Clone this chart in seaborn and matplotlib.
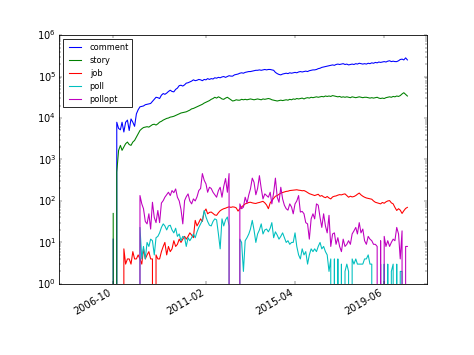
import numpy as np
import pandas as pd
import seaborn as sns
import matplotlib
matplotlib.use("Agg")
import matplotlib.pyplot as plt

# monthly counts per item type
months = pd.date_range("2006-10-01", periods=166, freq="MS")

comment = [12, 0, 7900, 5600, 5200, 7900, 4600, 7900, 8900, 5000,
           9500, 7900, 6300, 12600, 15800, 18600, 19100, 19500, 20900, 21400,
           21900, 22400, 25100, 28200, 31600, 30900, 29500, 35500, 38900, 37200,
           39800, 43600, 46800, 43600, 42700, 49000, 52500, 60300, 61700, 58900,
           63100, 69200, 70800, 74100, 77600, 83200, 79400, 81300, 85100, 83200,
           79400, 85100, 83200, 89100, 85100, 89100, 87100, 93300, 91200, 95500,
           93300, 97700, 100000, 95500, 100000, 104700, 102300, 102300, 109600, 112200,
           114800, 120200, 123000, 120200, 125900, 128800, 131800, 131800, 134900, 138000,
           141300, 141300, 144500, 141300, 144500, 147900, 144500, 147900, 147900, 144500,
           141300, 125900, 117500, 112200, 109600, 114800, 117500, 120200, 117500, 123000,
           120200, 123000, 125900, 123000, 128800, 131800, 128800, 131800, 134900, 131800,
           138000, 141300, 144500, 144500, 147900, 154900, 158500, 166000, 169800, 173800,
           177800, 182000, 186200, 190500, 186200, 195000, 199500, 195000, 199500, 204200,
           195000, 199500, 190500, 195000, 199500, 195000, 204200, 199500, 208900, 204200,
           199500, 204200, 199500, 208900, 204200, 213800, 208900, 218800, 213800, 223900,
           218800, 223900, 229100, 223900, 234400, 239900, 229100, 234400, 229100, 229100,
           239900, 257000, 263000, 251200, 281800, 251200]

story = [50, 0, 500, 1660, 2190, 1660, 2000, 2400, 2630, 2290,
         2190, 2630, 2880, 3470, 4170, 5010, 5500, 5890, 6030, 6170,
         6030, 6460, 6920, 7080, 6760, 7240, 7940, 8320, 8910, 9330,
         9770, 10000, 10500, 10700, 11000, 11500, 12000, 12600, 13200, 13500,
         13800, 14100, 14800, 15500, 16600, 17000, 17800, 18600, 19500, 20400,
         21400, 22900, 24000, 25100, 26300, 28200, 29500, 31600, 30200, 32400,
         30900, 28800, 28200, 30200, 31600, 29500, 27500, 25700, 26300, 27500,
         26900, 26900, 28200, 27500, 28200, 27500, 28200, 28800, 28200, 27500,
         28200, 28800, 28200, 27500, 28800, 28200, 28800, 29500, 28800, 27500,
         26900, 26300, 25700, 26300, 26900, 26300, 26900, 27500, 26900, 28200,
         27500, 28800, 28200, 29500, 28800, 29500, 30200, 28800, 30200, 30900,
         30200, 31600, 30900, 31600, 32400, 31600, 32400, 33100, 32400, 33900,
         33100, 33900, 33100, 34700, 33900, 33100, 32400, 33100, 31600, 32400,
         31600, 32400, 31600, 30900, 32400, 31600, 30900, 31600, 32400, 31600,
         30900, 31600, 31600, 30900, 30200, 30900, 30200, 30900, 31600, 30200,
         29500, 30200, 29500, 30900, 31600, 32400, 31600, 33100, 32400, 33900,
         33100, 34700, 38000, 40700, 37200, 33900]

job = [0, 0, 0, 0, 0, 0, 7, 3, 4, 4,
       3, 6, 4, 4, 5, 4, 3, 7, 4, 5,
       6, 4, 4, 0, 5, 4, 4, 6, 8, 10,
       5, 8, 6, 7, 11, 8, 9, 12, 10, 12,
       14, 12, 14, 17, 15, 13, 34, 25, 30, 37,
       32, 55, 64, 49, 53, 54, 50, 46, 45, 52,
       58, 62, 65, 67, 70, 72, 70, 72, 71, 68,
       57, 65, 72, 78, 85, 88, 92, 93, 90, 88,
       87, 90, 92, 95, 98, 90, 80, 65, 90, 102,
       115, 130, 135, 145, 155, 160, 165, 170, 172, 178,
       180, 182, 185, 186, 182, 180, 176, 178, 170, 160,
       150, 145, 140, 135, 140, 145, 130, 135, 125, 120,
       128, 118, 112, 125, 130, 132, 138, 142, 140, 145,
       148, 135, 123, 130, 125, 128, 135, 145, 155, 140,
       130, 123, 118, 115, 112, 110, 100, 93, 90, 87,
       85, 92, 88, 95, 100, 102, 90, 85, 70, 59,
       65, 60, 50, 58, 66, 70]

poll = [0, 0, 0, 0, 0, 0, 0, 0, 0, 0,
        0, 0, 0, 0, 0, 23, 4, 8, 4, 10,
        8, 12, 11, 5, 13, 14, 17, 23, 28, 25,
        20, 25, 26, 20, 17, 22, 14, 16, 11, 14,
        13, 8, 13, 11, 13, 16, 13, 18, 23, 28,
        34, 59, 41, 32, 26, 25, 32, 37, 35, 16,
        7, 37, 25, 35, 41, 25, 0, 0, 0, 0,
        0, 12, 10, 2, 11, 13, 16, 21, 34, 20,
        10, 16, 20, 28, 16, 20, 21, 18, 22, 30,
        13, 18, 15, 12, 14, 17, 13, 10, 11, 9,
        10, 10, 17, 8, 5, 4, 7, 5, 6, 3,
        5, 7, 6, 7, 6, 8, 10, 7, 8, 6,
        5, 2, 4, 0, 4, 0, 4, 0, 3, 0,
        2, 3, 2, 0, 4, 3, 4, 3, 3, 3,
        3, 4, 4, 5, 3, 3, 0, 0, 0, 0,
        3, 0, 3, 0, 3, 0, 2, 3, 0, 3,
        0, 2, 2, 0, 0, 0]

pollopt = [0, 0, 0, 0, 0, 0, 0, 0, 0, 0,
           0, 0, 0, 0, 0, 135, 85, 65, 32, 28,
           49, 21, 93, 40, 30, 59, 30, 89, 102, 123,
           141, 162, 135, 178, 158, 195, 123, 100, 63, 28,
           102, 126, 148, 100, 85, 112, 100, 126, 178, 200,
           457, 316, 257, 162, 214, 200, 162, 141, 123, 178,
           214, 123, 224, 347, 162, 457, 0, 0, 0, 0,
           0, 85, 65, 71, 123, 89, 141, 195, 355, 282,
           141, 200, 407, 200, 112, 148, 135, 123, 162, 85,
           158, 355, 123, 93, 214, 112, 79, 65, 60, 85,
           71, 49, 85, 100, 135, 54, 56, 49, 30, 28,
           12, 37, 49, 37, 85, 79, 40, 23, 49, 25,
           17, 45, 8, 16, 17, 9, 13, 8, 6, 12,
           8, 9, 11, 9, 16, 19, 23, 16, 30, 17,
           21, 11, 9, 14, 12, 11, 9, 9, 8, 0,
           11, 0, 14, 8, 11, 8, 10, 12, 11, 23,
           16, 4, 19, 0, 8, 8]

kinds = ["comment", "story", "job", "poll", "pollopt"]
colors = ["b", "g", "r", "c", "m"]
tick_labels = ["2006-10", "2011-02", "2015-04", "2019-06"]

df = pd.DataFrame({"month": months, "comment": comment, "story": story,
                   "job": job, "poll": poll, "pollopt": pollopt})
df = df.melt(id_vars="month", var_name="kind", value_name="count")

plt.style.use("classic")
fig, ax = plt.subplots(figsize=(8, 6))

sns.lineplot(data=df, x="month", y="count", hue="kind", hue_order=kinds,
             palette=dict(zip(kinds, colors)), estimator=None, legend=False,
             linewidth=1.3, ax=ax)

# log scale after plotting so the zero months drop off the bottom
ax.set_yscale("log")
ax.set_ylim(1, 1e6)
ax.set_xlim(pd.Timestamp("2004-03-24"), pd.Timestamp("2021-05-25"))
ax.set_xticks(pd.to_datetime(tick_labels), labels=tick_labels)
ax.set(xlabel="", ylabel="")
ax.legend(ax.get_lines(), kinds, loc="upper left", fontsize="small")
fig.autofmt_xdate()

fig.savefig("out.png", dpi=59.25)
